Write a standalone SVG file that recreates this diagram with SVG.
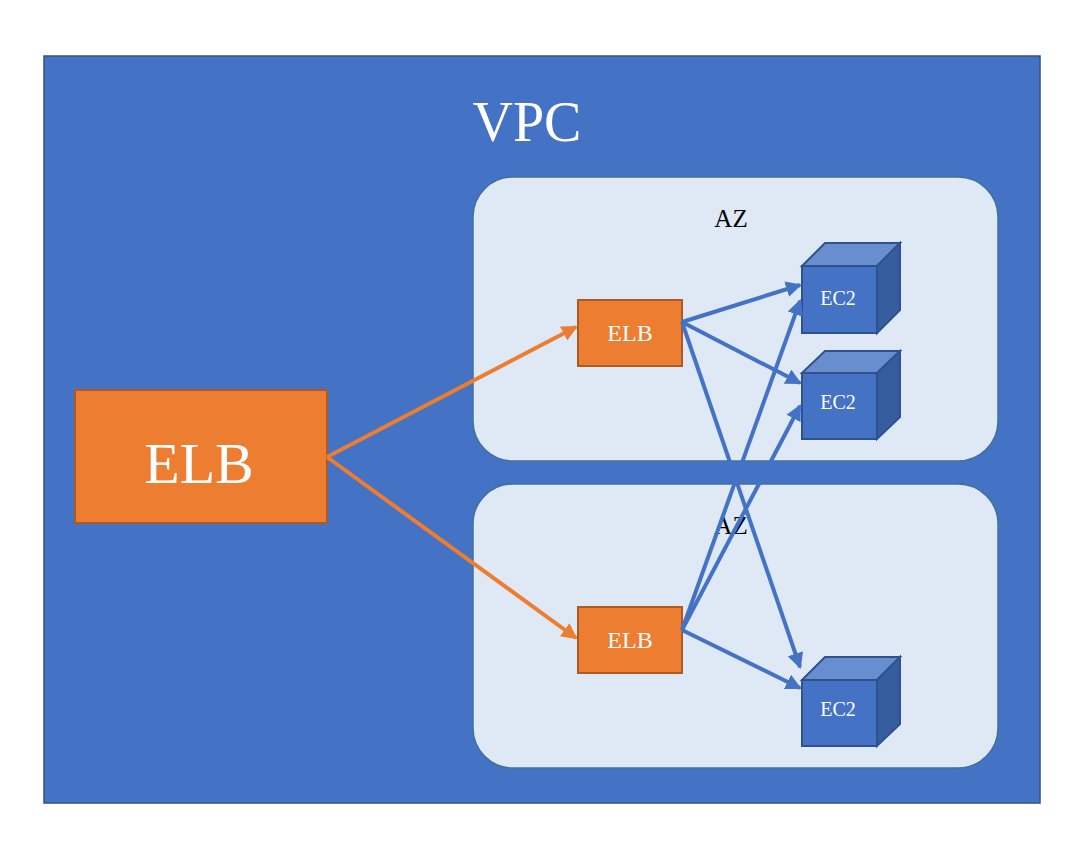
<svg xmlns="http://www.w3.org/2000/svg" width="1088" height="868" viewBox="0 0 1088 868">
<style>
text{font-family:"Liberation Serif","DejaVu Serif",serif;text-anchor:middle}
.az{fill:#dee9f5;stroke:#41719c;stroke-width:1.5}
.elb{fill:#ed7d31;stroke:#ae5a21;stroke-width:2}
.w{fill:#fff}
.front{fill:#4472c4;stroke:#2f528f;stroke-width:2}
.top{fill:#698ed0;stroke:#2f528f;stroke-width:2}
.side{fill:#365d9d;stroke:#2f528f;stroke-width:2}
.b{stroke:#4472c4;stroke-width:4;fill:none;marker-end:url(#ab)}
.o{stroke:#ed7d31;stroke-width:4;fill:none;marker-end:url(#ao)}
</style>
<defs>
<marker id="ab" markerWidth="4" markerHeight="4" refX="3.5" refY="2" orient="auto"><path d="M0,0L4,2L0,4z" fill="#4472c4"/></marker>
<marker id="ao" markerWidth="4" markerHeight="4" refX="3.5" refY="2" orient="auto"><path d="M0,0L4,2L0,4z" fill="#ed7d31"/></marker>
</defs>
<rect width="1088" height="868" fill="#fff"/>
<g id="vpc"><rect x="44" y="56" width="996" height="747" fill="#4472c4" stroke="#2f528f" stroke-width="1.5"/><text x="527" y="141" font-size="56" class="w">VPC</text></g>
<g id="az1"><rect class="az" x="473" y="177" width="525" height="284" rx="40"/><text x="731" y="227" font-size="25">AZ</text></g>
<g id="az2"><rect class="az" x="473" y="484" width="525" height="284" rx="40"/><text x="731" y="534" font-size="25">AZ</text></g>
<g id="elb-main"><rect class="elb" x="75" y="390" width="252" height="133"/><text x="199" y="483" font-size="58" class="w">ELB</text></g>
<g id="elb1"><rect class="elb" x="578" y="300" width="104" height="66"/><text x="630" y="341" font-size="24" class="w">ELB</text></g>
<g id="elb2"><rect class="elb" x="578" y="607" width="104" height="66"/><text x="630" y="648" font-size="24" class="w">ELB</text></g>
<g id="ec2a"><path class="top" d="M802,266L825,243L900,243L877,266z"/><path class="side" d="M877,266L900,243L900,310L877,333z"/><rect class="front" x="802" y="266" width="75" height="67"/><text x="838" y="305" font-size="20" class="w">EC2</text></g>
<g id="ec2b"><path class="top" d="M802,373L825,351L900,351L877,373z"/><path class="side" d="M877,373L900,351L900,417L877,439z"/><rect class="front" x="802" y="373" width="75" height="66"/><text x="838" y="409" font-size="20" class="w">EC2</text></g>
<g id="ec2c"><path class="top" d="M802,680L825,657L900,657L877,680z"/><path class="side" d="M877,680L900,657L900,724L877,746z"/><rect class="front" x="802" y="680" width="75" height="66"/><text x="838" y="716" font-size="20" class="w">EC2</text></g>
<g id="connectors">
<line class="o" x1="327" y1="457" x2="576" y2="327"/>
<line class="o" x1="327" y1="457" x2="576" y2="638"/>
<line class="b" x1="682" y1="322" x2="800" y2="285"/>
<line class="b" x1="682" y1="322" x2="800" y2="383"/>
<line class="b" x1="682" y1="322" x2="800" y2="667"/>
<line class="b" x1="682" y1="630" x2="800" y2="301"/>
<line class="b" x1="682" y1="630" x2="800" y2="406"/>
<line class="b" x1="682" y1="630" x2="800" y2="688"/>
</g>
</svg>
